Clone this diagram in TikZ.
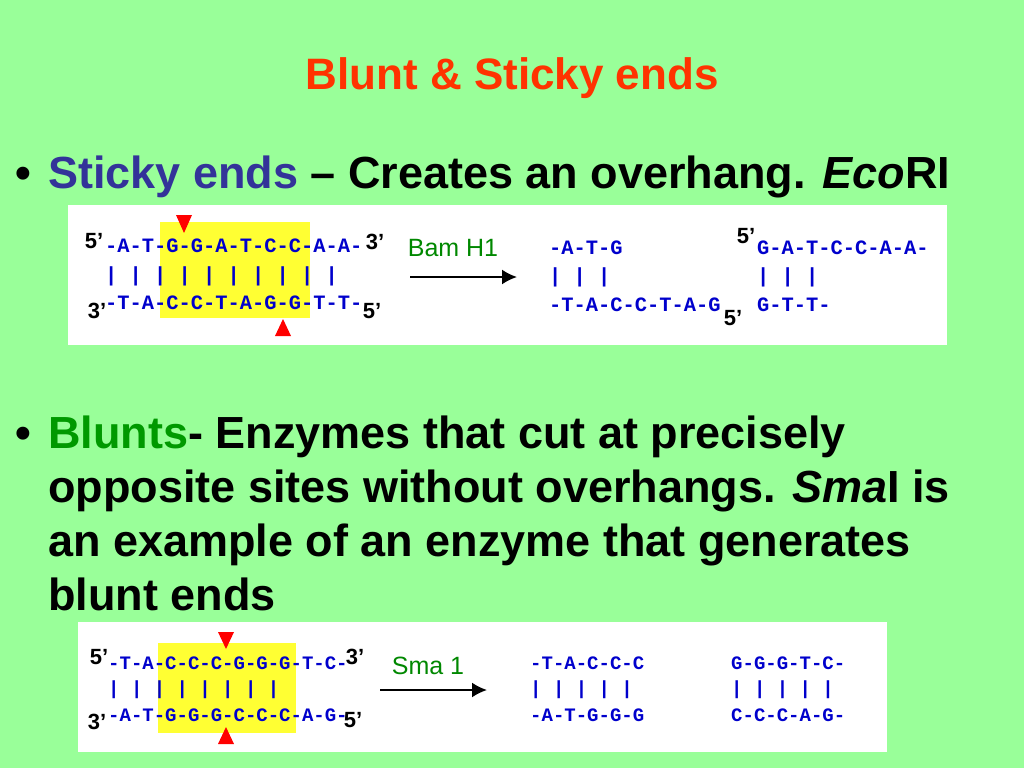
\documentclass[tikz,border=0pt]{standalone}
\usetikzlibrary{arrows.meta}
\usepackage{fontspec}
\setmainfont{Liberation Sans}
\newfontfamily\dnafont{Liberation Mono}
\definecolor{bg}{HTML}{99FF99}
\definecolor{ttl}{HTML}{FF3300}
\definecolor{stk}{HTML}{333399}
\definecolor{blt}{HTML}{009900}
\definecolor{dna}{HTML}{0000CC}
\definecolor{enz}{HTML}{008800}
\definecolor{ylw}{HTML}{FFFF33}
\begin{document}
\begin{tikzpicture}[x=1pt,y=-1pt,
  body/.style={anchor=base west,inner sep=0pt,font=\fontsize{45}{52}\selectfont\bfseries},
  dnaA/.style={anchor=west,inner sep=0pt,text=dna,font=\fontsize{20.4}{22}\selectfont\dnafont\bfseries},
  dnaB/.style={anchor=west,inner sep=0pt,text=dna,font=\fontsize{19}{22}\selectfont\dnafont\bfseries},
  endl/.style={inner sep=0pt,font=\fontsize{22}{24}\selectfont\bfseries},
  enzl/.style={inner sep=0pt,text=enz,font=\fontsize{25}{28}\selectfont},
  cut/.style={fill=red,draw=none},
  arr/.style={draw=black,line width=2pt,-{Latex[length=15pt,width=15pt]}}]
\useasboundingbox (0,0) rectangle (1024,768);
\fill[bg] (0,0) rectangle (1024,768);
\node[inner sep=0pt,text=ttl,font=\fontsize{44}{50}\selectfont\bfseries] (title) at (512,78) {Blunt \& Sticky ends};
\node[body] (b1) at (15,188) {•};
\node[body] (s1) at (48,188) {\textcolor{stk}{Sticky ends} – Creates an overhang. \textit{Eco}RI};
\node[body] (b2) at (15,448) {•};
\node[body] (l1) at (48,448) {\textcolor{blt}{Blunts}- Enzymes that cut at precisely};
\node[body] (l2) at (48,502) {opposite sites without overhangs. \textit{Sma}I is};
\node[body] (l3) at (48,556) {an example of an enzyme that generates};
\node[body] (l4) at (48,610) {blunt ends};
% panel 1
\fill[white] (68,205) rectangle (947,345);
\fill[ylw] (160,222) rectangle (310,318);
\fill[cut] (176,215) -- (192,215) -- (184,233) -- cycle;
\fill[cut] (275,336) -- (291,336) -- (283,319) -- cycle;
\node[endl] (p1a) at (94,241) {5'};
\node[dnaA] (p1t) at (105,246) {-A-T-G-G-A-T-C-C-A-A-};
\node[endl] (p1b) at (375,242) {3'};
\node[dnaA] (p1m) at (105,276) { | | | | | | | | | |};
\node[endl] (p1c) at (97,311) {3'};
\node[dnaA] (p1u) at (105,303) {-T-A-C-C-T-A-G-G-T-T-};
\node[endl] (p1d) at (372,311) {5'};
\node[enzl] (bam) at (453,248) {Bam H1};
\coordinate (a1s) at (410,277); \coordinate (a1e) at (517,277);
\draw[arr] (a1s) -- (a1e);
\node[dnaA] (r1t) at (549,248) {-A-T-G};
\node[dnaA] (r1m) at (549,277) { | | |};
\node[dnaA] (r1u) at (549,305) {-T-A-C-C-T-A-G};
\node[endl] (r1e) at (733,318) {5'};
\node[endl] (q1e) at (746,236) {5'};
\node[dnaA] (q1t) at (757,248) {G-A-T-C-C-A-A-};
\node[dnaA] (q1m) at (757,277) {        | | |};
\node[dnaA] (q1u) at (757,305) {        G-T-T-};
% panel 2
\fill[white] (78,622) rectangle (887,752);
\fill[ylw] (158,643) rectangle (296,733);
\fill[cut] (218,632) -- (234,632) -- (226,649) -- cycle;
\fill[cut] (218,744) -- (234,744) -- (226,727) -- cycle;
\node[endl] (p2a) at (99,657) {5'};
\node[dnaB] (p2t) at (108,663) {-T-A-C-C-C-G-G-G-T-C-};
\node[endl] (p2b) at (355,657) {3'};
\node[dnaB] (p2m) at (108,690) { | | | | | | | |};
\node[endl] (p2c) at (97,722) {3'};
\node[dnaB] (p2u) at (108,715) {-A-T-G-G-G-C-C-C-A-G-};
\node[endl] (p2d) at (353,720) {5'};
\node[enzl] (sma) at (428,666) {Sma 1};
\coordinate (a2s) at (380,690); \coordinate (a2e) at (487,690);
\draw[arr] (a2s) -- (a2e);
\node[dnaB] (r2t) at (530,663) {-T-A-C-C-C};
\node[dnaB] (r2m) at (530,690) { | | | | |};
\node[dnaB] (r2u) at (530,715) {-A-T-G-G-G};
\node[dnaB] (q2t) at (731,663) {G-G-G-T-C-};
\node[dnaB] (q2m) at (731,690) {| | | | |};
\node[dnaB] (q2u) at (731,715) {C-C-C-A-G-};
\end{tikzpicture}
\end{document}
